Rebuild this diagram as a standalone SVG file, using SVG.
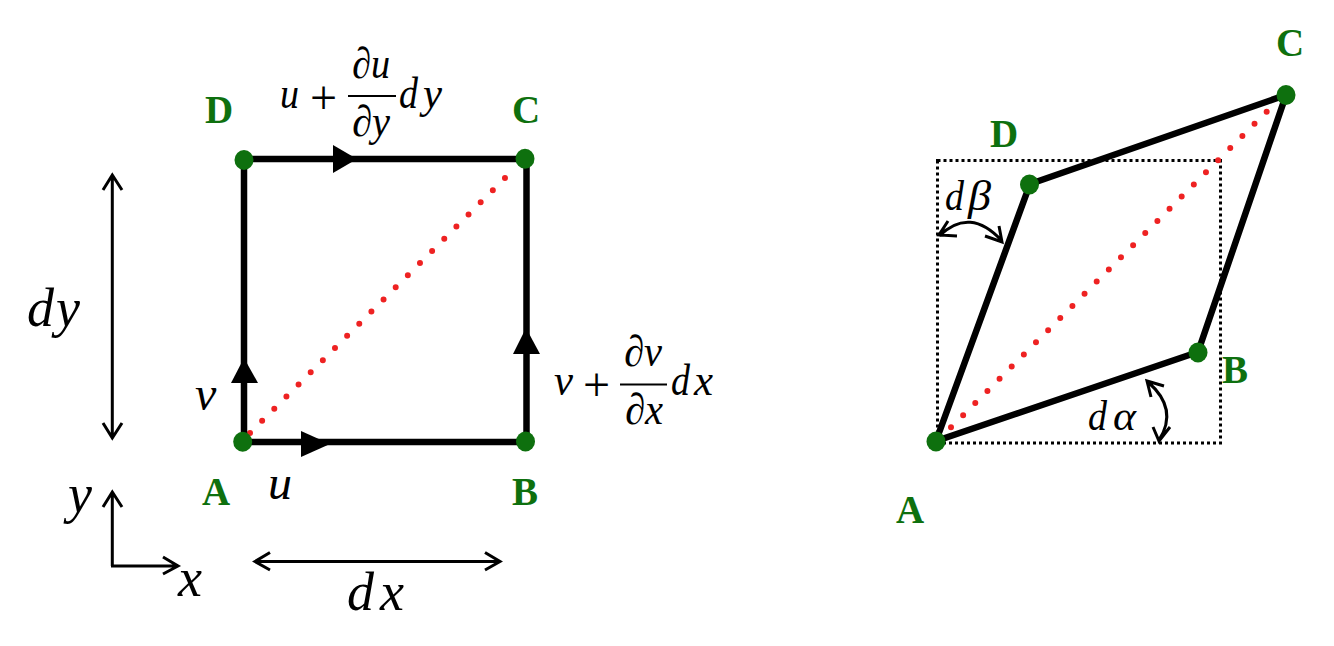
<svg xmlns="http://www.w3.org/2000/svg" width="1334" height="646" viewBox="0 0 1334 646">
<style>
text{font-family:"Liberation Serif","Times New Roman",serif}
.m{font-style:italic;fill:#000;font-size:44px}
.l{font-size:54px}
.p{font-style:normal;font-size:48px}
.lab{font-weight:bold;font-size:39px;fill:#0e700e}
.e{stroke:#000;stroke-width:6.500;fill:none}
.t{stroke:#000;stroke-width:3;fill:none}
.dot{stroke:#000;stroke-width:3;stroke-dasharray:3 3;fill:none}
.red{stroke:#ee2222;stroke-width:6;stroke-linecap:round;stroke-dasharray:0 17.17;fill:none}
.n{fill:#0e700e}
.h{fill:#000}
.f{stroke:#000;stroke-width:2.200}
</style>
<rect width="1334" height="646" fill="#fff"/>
<g id="connectors">
<path class="red" d="M250 433L505.100 177.900"/>
<path class="e" d="M244 443V159H526.500V441"/>
<path class="e" d="M244 442H526"/>
<polygon class="h" points="333,145 357,159 333,173"/>
<polygon class="h" points="301,431 330,444 301,457"/>
<polygon class="h" points="231,383 244,358 258,383"/>
<polygon class="h" points="513,354 526,328 540,354"/>
<path class="t" d="M112.300 175V437M103 190L112.300 175L122 190M103 423L112.300 438L122 423"/>
<path class="t" d="M112.300 566V493M103 507L112.300 492L122 507M111 566H177M163 557L178 566L163 574"/>
<path class="t" d="M255 561.500H499M270 552.500L255 561.500L270 570M485 552.500L500 561.500L485 570"/>
<path class="dot" d="M937.500 160.500H1220.500V443H937.500Z"/>
<path class="red" d="M951 427.300L1267.200 111.100"/>
<path class="e" d="M936 441L1030 184L1286 95L1198 352Z"/>
<path class="t" d="M939 236Q970 206 1002 241M948 221L939 235L957 236M985 236L1002 242L999 226"/>
<path class="t" d="M1148 382Q1179 409 1159 440M1164 386L1147 381L1151 397M1153 427L1159 441L1170 427"/>
</g>
<g id="node-a"><ellipse class="n" cx="242.700" cy="441.700" rx="9.500" ry="10"/><text class="lab" x="202" y="505">A</text></g>
<g id="node-b"><ellipse class="n" cx="525.500" cy="441.500" rx="9.500" ry="10"/><text class="lab" x="512" y="505">B</text></g>
<g id="node-c"><ellipse class="n" cx="525" cy="158.700" rx="9.500" ry="10"/><text class="lab" x="512" y="123">C</text></g>
<g id="node-d"><ellipse class="n" cx="244" cy="160" rx="9.500" ry="10"/><text class="lab" x="205" y="123">D</text></g>
<g id="node-a2"><ellipse class="n" cx="936" cy="441.500" rx="9.500" ry="10"/><text class="lab" x="896" y="523">A</text></g>
<g id="node-b2"><ellipse class="n" cx="1198" cy="352.500" rx="9.500" ry="10"/><text class="lab" x="1222" y="383">B</text></g>
<g id="node-c2"><ellipse class="n" cx="1286" cy="95" rx="9.500" ry="10"/><text class="lab" x="1276" y="56">C</text></g>
<g id="node-d2"><ellipse class="n" cx="1029.500" cy="184.500" rx="9.500" ry="10"/><text class="lab" x="990" y="147">D</text></g>
<g id="labels">
<text class="m" x="280" y="108" textLength="19" lengthAdjust="spacingAndGlyphs">u</text><text class="p" x="310" y="114">+</text>
<text class="m" x="352" y="78" textLength="38" lengthAdjust="spacingAndGlyphs">∂u</text><path class="f" d="M348 96H396"/><text class="m" x="352" y="136" textLength="38" lengthAdjust="spacingAndGlyphs">∂y</text>
<text class="m" x="399" y="108" textLength="19" lengthAdjust="spacingAndGlyphs">d</text><text class="m" x="423" y="108" textLength="19" lengthAdjust="spacingAndGlyphs">y</text>
<text class="m" x="554" y="395" textLength="19" lengthAdjust="spacingAndGlyphs">v</text><text class="p" x="583" y="401">+</text>
<text class="m" x="624" y="366" textLength="38" lengthAdjust="spacingAndGlyphs">∂v</text><path class="f" d="M620 384.500H667"/><text class="m" x="625" y="424" textLength="38" lengthAdjust="spacingAndGlyphs">∂x</text>
<text class="m" x="671" y="395" textLength="19" lengthAdjust="spacingAndGlyphs">d</text><text class="m" x="694" y="395" textLength="19" lengthAdjust="spacingAndGlyphs">x</text>
<text class="m" x="195" y="410" style="font-size:48px">v</text>
<text class="m" x="268" y="499" style="font-size:48px" textLength="24" lengthAdjust="spacingAndGlyphs">u</text>
<text class="m l" x="27" y="326">d</text><text class="m l" x="56" y="326">y</text>
<text class="m l" x="68" y="512">y</text>
<text class="m l" x="178" y="596">x</text>
<text class="m l" x="347" y="610">d</text><text class="m l" x="380" y="610">x</text>
<text class="m" x="945" y="210" style="font-size:42px" textLength="19" lengthAdjust="spacingAndGlyphs">d</text><text class="m" x="968" y="210" style="font-size:42px" textLength="23" lengthAdjust="spacingAndGlyphs">β</text>
<text class="m" x="1088" y="430" style="font-size:42px" textLength="19" lengthAdjust="spacingAndGlyphs">d</text><text class="m" x="1113" y="430" style="font-size:42px" textLength="23" lengthAdjust="spacingAndGlyphs">α</text>
</g>
</svg>
